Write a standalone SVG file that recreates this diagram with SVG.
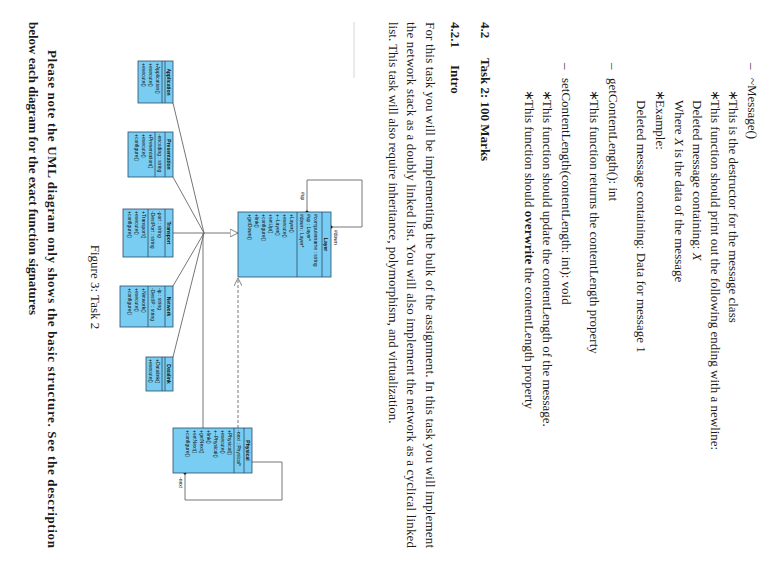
<svg xmlns="http://www.w3.org/2000/svg" width="774" height="571" viewBox="0 0 774 571">
<style>
.t{font-family:"Liberation Serif",serif;font-size:13px;fill:#1a1a1a}
.b{font-weight:bold}
.c{fill:#79cdf2;stroke:#2d4a66;stroke-width:0.8}
.d{stroke:#2d4a66;stroke-width:0.8}
.s{font-family:"Liberation Sans",sans-serif;font-size:5px;fill:#111}
.h{font-weight:bold;text-anchor:middle}
.l{fill:none;stroke:#666;stroke-width:0.9}
</style>
<defs>
<marker id="tri" viewBox="0 0 10 10" refX="10" refY="5" markerWidth="8" markerHeight="8" markerUnits="userSpaceOnUse" orient="auto"><path d="M0,0 L10,5 L0,10 z" fill="#fff" stroke="#666"/></marker>
<marker id="open" viewBox="0 0 10 10" refX="10" refY="5" markerWidth="8" markerHeight="8" markerUnits="userSpaceOnUse" orient="auto"><path d="M0,0 L10,5 L0,10" fill="none" stroke="#666"/></marker>
</defs>
<rect width="774" height="571" fill="#fff"/>
<g transform="translate(774,0) rotate(90)">
<g id="text">
<text class="t" x="63" y="26">–</text><text class="t" x="78" y="26">~Message()</text>
<text class="t" x="90" y="45">∗</text><text class="t" x="100" y="45">This is the destructor for the message class</text>
<text class="t" x="90" y="63">∗</text><text class="t" x="100" y="63">This function should print out the following ending with a newline:</text>
<text class="t" x="100" y="81">Deleted message containing: <tspan font-style="italic">X</tspan></text>
<text class="t" x="100" y="99">Where <tspan font-style="italic">X</tspan> is the data of the message</text>
<text class="t" x="90" y="118">∗</text><text class="t" x="100" y="118">Example:</text>
<text class="t" x="100" y="137">Deleted message containing: Data for message 1</text>
<text class="t" x="63" y="165">–</text><text class="t" x="78" y="165">getContentLength(): int</text>
<text class="t" x="90" y="184">∗</text><text class="t" x="100" y="184">This function returns the contentLength property</text>
<text class="t" x="63" y="212">–</text><text class="t" x="78" y="212">setContentLength(contentLength: int): void</text>
<text class="t" x="90" y="231">∗</text><text class="t" x="100" y="231">This function should update the contentLength of the message.</text>
<text class="t" x="90" y="249">∗</text><text class="t" x="100" y="249">This function should <tspan class="b">overwrite</tspan> the contentLength property</text>
<text class="t b" x="22" y="293" font-size="17">4.2</text><text class="t b" x="58" y="293" font-size="17">Task 2: 100 Marks</text>
<text class="t b" x="22" y="323" font-size="14">4.2.1</text><text class="t b" x="65" y="323" font-size="14">Intro</text>
<text class="t" x="22" y="348" textLength="526" lengthAdjust="spacing">For this task you will be implementing the bulk of the assignment. In this task you will implement</text>
<text class="t" x="22" y="367" textLength="526" lengthAdjust="spacing">the network stack as a doubly linked list. You will also implement the network as a cyclical linked</text>
<text class="t" x="22" y="385">list. This task will also require inheritance, polymorphism, and virtualization.</text>
<line x1="22" y1="420" x2="78" y2="420" stroke="#ccc" stroke-width="0.8"/>
<text class="t" x="287" y="683" text-anchor="middle">Figure 3: Task 2</text>
<text class="t b" x="50" y="726" textLength="498" lengthAdjust="spacing">Please note the UML diagram only shows the basic structure. See the description</text>
<text class="t b" x="22" y="745">below each diagram for the exact function signatures</text>
</g>
<g id="connectors">
<polyline class="l" points="103,601 233,570"/>
<polyline class="l" points="177,601 233,570"/>
<polyline class="l" points="233,601 233,570"/>
<polyline class="l" points="286,601 233,570"/>
<polyline class="l" points="357,601 233,570"/>
<polyline class="l" points="428,571 233,571"/>
<line class="l" x1="233" y1="570" x2="233" y2="536" marker-end="url(#tri)"/>
<line class="l" x1="428" y1="536" x2="278" y2="536" stroke-dasharray="3,2" marker-end="url(#open)"/>
<polyline class="l" points="212,467 180,467 180,412 227,412 227,443"/>
<circle cx="212" cy="467" r="1.5" fill="#000"/><circle cx="227" cy="443" r="1.5" fill="#000"/>
<text class="s" x="192" y="473">#up</text><text class="s" x="230" y="440">#down</text>
<polyline class="l" points="462,522 462,492 500,492 500,589 473,589"/>
<circle cx="473" cy="589" r="1.5" fill="#000"/>
<text class="s" x="477" y="595">-next</text>
</g>
<g id="Layer">
<rect class="c" x="212" y="443" width="65" height="93"/>
<line class="d" x1="212" y1="452" x2="277" y2="452"/><line class="d" x1="212" y1="477" x2="277" y2="477"/>
<text class="s h" x="244.5" y="450">Layer</text>
<text class="s" x="214" y="460">#computername : string</text><text class="s" x="214" y="467">#up : Layer*</text><text class="s" x="214" y="474">#down : Layer*</text>
<text class="s" x="214" y="484">+Layer()</text><text class="s" x="214" y="491">+execute()</text><text class="s" x="214" y="498">+~Layer()</text><text class="s" x="214" y="505">+setUp()</text><text class="s" x="214" y="512">+configure()</text><text class="s" x="214" y="519">+link()</text><text class="s" x="214" y="526">+getDown()</text>
</g>
<g id="Application">
<rect class="c" x="61" y="601" width="42" height="35"/>
<line class="d" x1="61" y1="609" x2="103" y2="609"/><line class="d" x1="61" y1="612" x2="103" y2="612"/>
<text class="s h" x="82" y="607">Application</text>
<text class="s" x="63" y="618">+Application()</text><text class="s" x="63" y="625">+execute()</text><text class="s" x="63" y="632">+execute()</text>
</g>
<g id="Presentation">
<rect class="c" x="132" y="601" width="45" height="45"/>
<line class="d" x1="132" y1="609" x2="177" y2="609"/><line class="d" x1="132" y1="619" x2="177" y2="619"/>
<text class="s h" x="154.5" y="607">Presentation</text>
<text class="s" x="134" y="616">-encoding : string</text>
<text class="s" x="134" y="625">+Presentation()</text><text class="s" x="134" y="632">+execute()</text><text class="s" x="134" y="639">+configure()</text>
</g>
<g id="Transport">
<rect class="c" x="209" y="601" width="48" height="50"/>
<line class="d" x1="209" y1="609" x2="257" y2="609"/><line class="d" x1="209" y1="626" x2="257" y2="626"/>
<text class="s h" x="233" y="607">Transport</text>
<text class="s" x="211" y="616">-port : string</text><text class="s" x="211" y="623">-DestPort : string</text>
<text class="s" x="211" y="632">+Transport()</text><text class="s" x="211" y="639">+execute()</text><text class="s" x="211" y="646">+configure()</text>
</g>
<g id="Network">
<rect class="c" x="286" y="601" width="41" height="53"/>
<line class="d" x1="286" y1="609" x2="327" y2="609"/><line class="d" x1="286" y1="626" x2="327" y2="626"/>
<text class="s h" x="306.5" y="607">Network</text>
<text class="s" x="288" y="616">-ip : string</text><text class="s" x="288" y="623">-DestIP : string</text>
<text class="s" x="288" y="632">+Network()</text><text class="s" x="288" y="639">+execute()</text><text class="s" x="288" y="646">+configure()</text>
</g>
<g id="Datalink">
<rect class="c" x="357" y="601" width="34" height="27"/>
<line class="d" x1="357" y1="609" x2="391" y2="609"/><line class="d" x1="357" y1="612" x2="391" y2="612"/>
<text class="s h" x="374" y="607">Datalink</text>
<text class="s" x="359" y="618">+Datalink()</text><text class="s" x="359" y="625">+execute()</text>
</g>
<g id="Physical">
<rect class="c" x="428" y="522" width="45" height="79"/>
<line class="d" x1="428" y1="530" x2="473" y2="530"/><line class="d" x1="428" y1="540" x2="473" y2="540"/>
<text class="s h" x="450.5" y="528">Physical</text>
<text class="s" x="430" y="537">-next : Physical*</text>
<text class="s" x="430" y="546">+Physical()</text><text class="s" x="430" y="553">+execute()</text><text class="s" x="430" y="560">+~Physical()</text><text class="s" x="430" y="567">+link()</text><text class="s" x="430" y="574">+getNext()</text><text class="s" x="430" y="581">+setNext()</text><text class="s" x="430" y="588">+configure()</text>
</g>
</g>
</svg>
